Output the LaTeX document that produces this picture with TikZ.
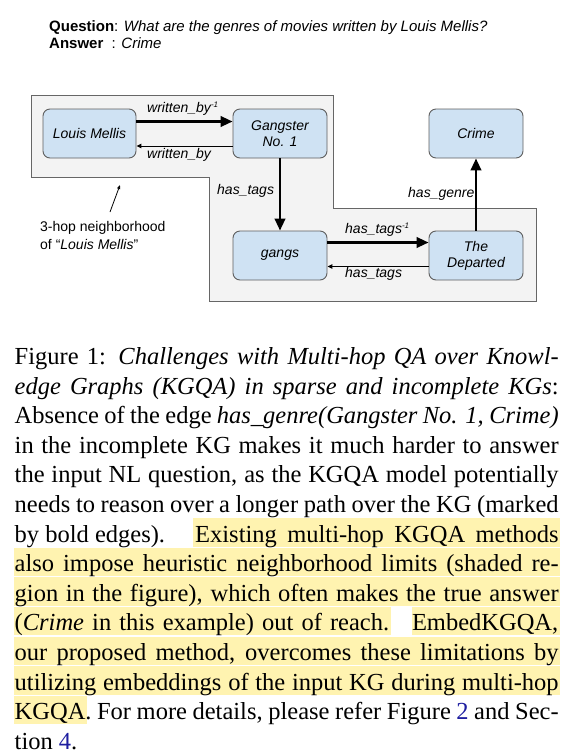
\documentclass[tikz,border=0pt]{standalone}
\usepackage{fontspec}
\setmainfont{Liberation Sans}
\newfontfamily\capfont{Liberation Serif}
\usetikzlibrary{arrows.meta}
\definecolor{nodefill}{HTML}{CFE2F3}
\definecolor{nodeline}{HTML}{5F5F5F}
\definecolor{regionfill}{HTML}{F3F3F3}
\definecolor{regionline}{HTML}{666666}
\definecolor{hl}{RGB}{255,243,176}
\definecolor{linkblue}{RGB}{30,30,160}
\newcommand{\supminus}{\raisebox{5pt}{\fontsize{8}{8}\selectfont -1}}
\begin{document}
\begin{tikzpicture}[x=1pt,y=-1pt,
  kgnode/.style={draw=nodeline, fill=nodefill, rounded corners=7pt, minimum height=49pt,
    line width=0.9pt, font=\fontsize{14}{16}\selectfont\itshape, align=center, inner sep=0pt},
  rel/.style={font=\fontsize{14}{16}\selectfont\itshape, inner sep=0pt, anchor=base west},
  plain/.style={font=\fontsize{14}{16}\selectfont, inner sep=0pt, anchor=base west},
  qa/.style={font=\fontsize{15}{17}\selectfont, inner sep=0pt, anchor=base west},
  boldarrow/.style={line width=2.4pt, -{Triangle[length=12pt,width=10.5pt]}},
  thinarrow/.style={line width=1pt, -{Triangle[length=5pt,width=4.5pt]}},
  capline/.style={anchor=base west, inner sep=0pt, font=\capfont\fontsize{24.5}{29.6}\selectfont},
  ]
\useasboundingbox (0,0) rectangle (586,756);

% question / answer
\node[qa] (question) at (49,31) {\textbf{Question}: \textit{What are the genres of movies written by Louis Mellis?}};
\node[qa] (answer) at (49,48.5) {\textbf{Answer}\ \ : \textit{Crime}};

% shaded neighborhood region
\draw[fill=regionfill, draw=regionline, line width=1pt]
  (31,95) -- (333,95) -- (333,208.5) -- (536,208.5) -- (536,301) -- (209,301) -- (209,177) -- (31,177) -- cycle;

% nodes
\node[kgnode, minimum width=93pt] (lm) at (89.5,133.5) {Louis Mellis};
\node[kgnode, minimum width=94pt] (gn) at (280,133.5) {Gangster\\No. 1};
\node[kgnode, minimum width=94pt] (crime) at (476,133.5) {Crime};
\node[kgnode, minimum width=94pt] (gangs) at (280,255.5) {gangs};
\node[kgnode, minimum width=94pt] (dep) at (476,255.5) {The\\Departed};

% edges
\draw[boldarrow] ([yshift=12pt]lm.east) -- ([yshift=12pt]gn.west);
\draw[thinarrow] ([yshift=-12.5pt]gn.west) -- ([yshift=-12.5pt]lm.east);
\draw[boldarrow] (gn.south) -- (gangs.north);
\draw[boldarrow] ([yshift=13pt]gangs.east) -- ([yshift=13pt]dep.west);
\draw[thinarrow] ([yshift=-11pt]dep.west) -- ([yshift=-11pt]gangs.east);
\draw[boldarrow] (dep.north) -- (crime.south);

% edge labels
\node[rel] (l1) at (147,112) {written\_by\supminus};
\node[rel] (l2) at (147,158) {written\_by};
\node[rel] (l3) at (217,194) {has\_tags};
\node[rel] (l4) at (345,233) {has\_tags\supminus};
\node[rel] (l5) at (345,277) {has\_tags};
\node[rel] (l6) at (408,197) {has\_genre};

% annotation
\node[plain] (ann1) at (40,231.5) {3-hop neighborhood};
\node[plain] (ann2) at (40,249) {of \char"201C\textit{Louis Mellis}\char"201D};
\coordinate (ptail) at (110,212);
\coordinate (phead) at (120,185);
\draw[line width=0.8pt, -{Triangle[length=4pt,width=3pt]}] (ptail) -- (phead);

% highlights
\fill[hl] (193,518.1) rectangle (559.5,546.6);
\fill[hl] (13.5,547.7) rectangle (559.5,576.2);
\fill[hl] (13.5,577.3) rectangle (559.5,605.8);
\fill[hl] (13.5,606.9) rectangle (391,635.4);
\fill[hl] (412,606.9) rectangle (559.5,635.4);
\fill[hl] (13.5,636.5) rectangle (559.5,665.0);
\fill[hl] (13.5,666.1) rectangle (559.5,694.6);
\fill[hl] (13.5,695.7) rectangle (87,724.2);

% caption
\node[capline] (cap1) at (14.5,364.5) {\makebox[544pt][s]{Figure 1: \textit{Challenges with Multi-hop QA over Knowl-}}};
\node[capline] (cap2) at (14.5,394.1) {\makebox[544pt][s]{\textit{edge Graphs (KGQA) in sparse and incomplete KGs}:}};
\node[capline] (cap3) at (14.5,423.7) {\makebox[544pt][s]{Absence of the edge \textit{has\_genre(Gangster No. 1, Crime)}}};
\node[capline] (cap4) at (14.5,453.3) {\makebox[544pt][s]{in the incomplete KG makes it much harder to answer}};
\node[capline] (cap5) at (14.5,482.9) {\makebox[544pt][s]{the input NL question, as the KGQA model potentially}};
\node[capline] (cap6) at (14.5,512.5) {\makebox[544pt][s]{needs to reason over a longer path over the KG (marked}};
\node[capline] (cap7a) at (14.5,542.1) {by bold edges).};
\node[capline] (cap7b) at (195,542.1) {\makebox[363.5pt][s]{Existing multi-hop KGQA methods}};
\node[capline] (cap8) at (14.5,571.7) {\makebox[544pt][s]{also impose heuristic neighborhood limits (shaded re-}};
\node[capline] (cap9) at (14.5,601.3) {\makebox[544pt][s]{gion in the figure), which often makes the true answer}};
\node[capline] (cap10a) at (14.5,630.9) {\makebox[374.5pt][s]{(\textit{Crime} in this example) out of reach.}};
\node[capline, anchor=base east] (cap10b) at (558.5,630.9) {EmbedKGQA,};
\node[capline] (cap11) at (14.5,660.5) {\makebox[544pt][s]{our proposed method, overcomes these limitations by}};
\node[capline] (cap12) at (14.5,690.1) {\makebox[544pt][s]{utilizing embeddings of the input KG during multi-hop}};
\node[capline] (cap13) at (14.5,719.7) {\makebox[544pt][s]{KGQA. For more details, please refer Figure \textcolor{linkblue}{2} and Sec-}};
\node[capline] (cap14) at (14.5,749.3) {tion \textcolor{linkblue}{4}.};
\end{tikzpicture}
\end{document}
